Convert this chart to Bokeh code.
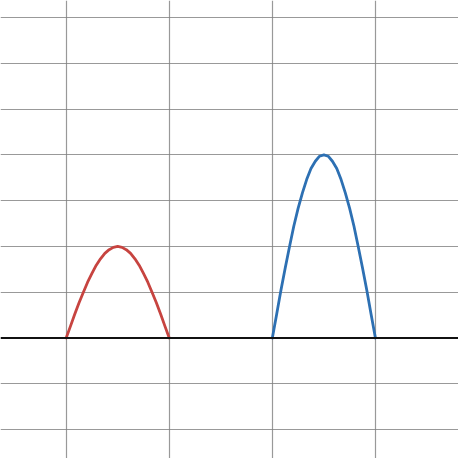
from bokeh.plotting import figure
from bokeh.models import Grid, FixedTicker, Span, Range1d
from bokeh.embed import file_html
from bokeh.resources import INLINE

# grid positions (no tick labels shown in the picture)
x_ticks = [1, 2, 3, 4]
y_ticks = [-2, -1, 1, 2, 3, 4, 5, 6, 7]

# red arch
red_x = [1.0, 1.042, 1.083, 1.125, 1.167, 1.208, 1.25, 1.292, 1.333, 1.375, 1.417, 1.458, 1.5,
         1.542, 1.583, 1.625, 1.667, 1.708, 1.75, 1.792, 1.833, 1.875, 1.917, 1.958, 2.0]
red_y = [0, 0.26, 0.52, 0.77, 1.0, 1.22, 1.41, 1.59, 1.73, 1.85, 1.93, 1.98, 2.0,
         1.98, 1.93, 1.85, 1.73, 1.59, 1.41, 1.22, 1.0, 0.77, 0.52, 0.26, 0]

# blue arch
blue_x = [3.0, 3.042, 3.083, 3.125, 3.167, 3.208, 3.25, 3.292, 3.333, 3.375, 3.417, 3.458, 3.5,
          3.542, 3.583, 3.625, 3.667, 3.708, 3.75, 3.792, 3.833, 3.875, 3.917, 3.958, 4.0]
blue_y = [0, 0.52, 1.04, 1.53, 2.0, 2.44, 2.83, 3.17, 3.46, 3.70, 3.86, 3.97, 4.0,
          3.97, 3.86, 3.70, 3.46, 3.17, 2.83, 2.44, 2.0, 1.53, 1.04, 0.52, 0]

p = figure(width=458, height=458, output_backend="svg", toolbar_location=None,
           x_axis_type=None, y_axis_type=None, min_border=0,
           x_range=Range1d(0.363, 4.806), y_range=Range1d(-2.63, 7.37))
p.outline_line_color = None
p.background_fill_color = "white"
p.border_fill_color = "white"

p.add_layout(Grid(dimension=0, ticker=FixedTicker(ticks=x_ticks),
                  grid_line_color="#7f7f7f", grid_line_width=1.2, grid_line_alpha=0.8))
p.add_layout(Grid(dimension=1, ticker=FixedTicker(ticks=y_ticks),
                  grid_line_color="#7f7f7f", grid_line_width=1.2, grid_line_alpha=0.8))

# x-axis line at y = 0
p.add_layout(Span(location=0, dimension="width", line_color="#111111", line_width=2))

p.line(red_x, red_y, line_color="#c74440", line_width=2.8, line_join="round", line_cap="round")
p.line(blue_x, blue_y, line_color="#2d70b3", line_width=2.8, line_join="round", line_cap="round")

open("out.html", "w").write(file_html(p, INLINE))
